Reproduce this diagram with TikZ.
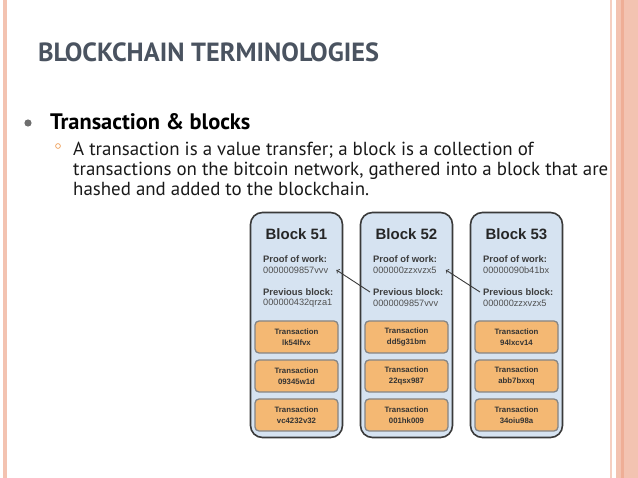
\documentclass[tikz,border=0pt]{standalone}
\usepackage{fontspec}
\setmainfont{PT Sans}
\newfontfamily\arialfont{Liberation Sans}
\usetikzlibrary{positioning}

\definecolor{slidepink}{HTML}{F3C3B1}
\definecolor{slidepinkdark}{HTML}{EFAE96}
\definecolor{titlegrey}{HTML}{4A5360}
\definecolor{bulletgrey}{HTML}{6E6E6E}
\definecolor{subbullet}{HTML}{F0A868}
\definecolor{blockfill}{HTML}{D6E3F1}
\definecolor{blockedge}{HTML}{3A3A3A}
\definecolor{txfill}{HTML}{F4B873}
\definecolor{txedge}{HTML}{858585}
\definecolor{labelgrey}{HTML}{3C3C3C}
\definecolor{hashgrey}{HTML}{505050}

\begin{document}
\begin{tikzpicture}[x=1pt,y=-1pt,
	blockbox/.style={draw=blockedge,fill=blockfill,line width=1.6pt,rounded corners=12pt,minimum width=92pt,minimum height=225pt},
	blocktitle/.style={font=\arialfont\bfseries\fontsize{15}{17}\selectfont,text=black!85},
	fieldname/.style={anchor=west,inner sep=1pt,font=\arialfont\bfseries\fontsize{9.4}{11}\selectfont,text=labelgrey},
	fieldval/.style={anchor=west,inner sep=1pt,font=\arialfont\fontsize{9.2}{11}\selectfont,text=hashgrey},
	txbox/.style={draw=txedge,fill=txfill,line width=1.3pt,rounded corners=4pt,minimum width=83pt,minimum height=32pt,align=center,inner sep=1pt,font=\arialfont\bfseries\fontsize{7.8}{11}\selectfont,text=black!80}]
	\useasboundingbox (0,0) rectangle (638,478);
	% slide frame
	\fill[slidepink] (3,0) rectangle (7,478);
	\fill[slidepink!80] (610,0) rectangle (612,478);
	\fill[slidepink] (616,0) rectangle (638,478);
	\fill[slidepinkdark] (621,0) rectangle (624,478);
	
	\node[anchor=base west,inner sep=0,font=\bfseries\fontsize{26.3}{30}\selectfont,text=titlegrey] (title) at (38,62) {BLOCKCHAIN TERMINOLOGIES};
	
	\fill[bulletgrey] (28,123) circle (3.6);
	\node[anchor=base west,inner sep=0,font=\bfseries\fontsize{22.4}{24}\selectfont] (topic) at (50,130) {Transaction \& blocks};
	\draw[subbullet,line width=0.8pt] (58,146) circle (2.4);
	\node[anchor=north west,inner sep=0,align=left,font=\fontsize{18.9}{20.2}\selectfont,text=black!90] (expl) at (73,141.5) {A transaction is a value transfer; a block is a collection of\\transactions on the bitcoin network, gathered into a block that are\\hashed and added to the blockchain.};
	
	% block 51
	\node[blockbox] (b51) at (296.5,325) {};
	\node[blocktitle] (t51) at (296.5,234) {Block 51};
	\node[fieldname] (pow51) at (262,259) {Proof of work:};
	\node[fieldval] (hpow51) at (262,270) {0000009857vvv};
	\node[fieldname] (prev51) at (262,292) {Previous block:};
	\node[fieldval] (hprev51) at (262,303) {000000432qrza1};
	\node[txbox] (tx51a) at (296.5,337) {Transaction\\lk54lfvx};
	\node[txbox] (tx51b) at (296.5,376) {Transaction\\09345w1d};
	\node[txbox] (tx51c) at (296.5,415) {Transaction\\vc4232v32};
	
	% block 52
	\node[blockbox] (b52) at (406.5,325) {};
	\node[blocktitle] (t52) at (406.5,234) {Block 52};
	\node[fieldname] (pow52) at (372,259) {Proof of work:};
	\node[fieldval] (hpow52) at (372,270) {000000zzxvzx5};
	\node[fieldname] (prev52) at (372,292) {Previous block:};
	\node[fieldval] (hprev52) at (372,303) {0000009857vvv};
	\node[txbox] (tx52a) at (406.5,337) {Transaction\\dd5g31bm};
	\node[txbox] (tx52b) at (406.5,376) {Transaction\\22qsx987};
	\node[txbox] (tx52c) at (406.5,415) {Transaction\\001hk009};
	
	% block 53
	\node[blockbox] (b53) at (516.5,325) {};
	\node[blocktitle] (t53) at (516.5,234) {Block 53};
	\node[fieldname] (pow53) at (482,259) {Proof of work:};
	\node[fieldval] (hpow53) at (482,270) {00000090b41bx};
	\node[fieldname] (prev53) at (482,292) {Previous block:};
	\node[fieldval] (hprev53) at (482,303) {000000zzxvzx5};
	\node[txbox] (tx53a) at (516.5,337) {Transaction\\94lxcv14};
	\node[txbox] (tx53b) at (516.5,376) {Transaction\\abb7bxxq};
	\node[txbox] (tx53c) at (516.5,415) {Transaction\\34oiu98a};
	
	\draw[->,blockedge,line width=0.9pt] ([xshift=-2pt]prev52.west) -- ([xshift=7pt]hpow51.east);
	\draw[->,blockedge,line width=0.9pt] ([xshift=-2pt]prev53.west) -- ([xshift=8pt]hpow52.east);
\end{tikzpicture}
\end{document}
